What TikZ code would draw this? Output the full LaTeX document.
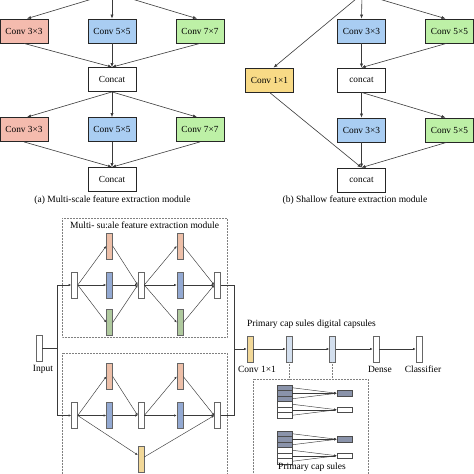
\documentclass[tikz,border=0pt]{standalone}
\usepackage{fontspec}
\setmainfont{Liberation Serif}
\usetikzlibrary{arrows.meta,positioning,calc}
\definecolor{cpink}{HTML}{F4BBAE}
\definecolor{cblue}{HTML}{A9CDF2}
\definecolor{cgreen}{HTML}{BDF0A6}
\definecolor{cyel}{HTML}{F8DA86}
\definecolor{spink}{HTML}{EDBFA8}
\definecolor{sblue}{HTML}{93A9D2}
\definecolor{sgreen}{HTML}{AFC99E}
\definecolor{syel}{HTML}{F2D898}
\definecolor{scap}{HTML}{D3DFEE}
\definecolor{sgray}{HTML}{8A93AA}
\definecolor{lcol}{HTML}{3A3A3A}
\tikzset{
  bigbox/.style={draw=black!85,line width=0.8pt,minimum width=48pt,minimum height=24pt,inner sep=0pt,font=\fontsize{9.3}{10}\selectfont},
  bar/.style={draw=black!60,line width=0.5pt,minimum width=6pt,minimum height=26pt,inner sep=0pt},
  cell/.style={draw=black!70,line width=0.5pt,minimum width=15pt,minimum height=5.5pt,inner sep=0pt},
  arr/.style={draw=lcol,line width=0.6pt,-{Latex[length=4pt,width=3.2pt]}},
  sarr/.style={draw=lcol,line width=0.45pt,-{Latex[length=2.6pt,width=2.2pt]}},
  plain/.style={draw=lcol,line width=0.45pt},
  dbox/.style={draw=black!50,line width=0.5pt,densely dotted},
  lbl/.style={font=\fontsize{9.5}{10}\selectfont,inner sep=0pt}
}
\begin{document}
\begin{tikzpicture}[x=1pt,y=-1pt]
\useasboundingbox (0,0) rectangle (474,474);
\clip (0,0) rectangle (474,474);
\fill[white] (0,0) rectangle (474,474);
% ---------- (a) ----------
\coordinate (ina) at (112,-7);
\node[bigbox,fill=cpink] (a1) at (24,31) {Conv 3×3};
\node[bigbox,fill=cblue] (a2) at (112,31) {Conv 5×5};
\node[bigbox,fill=cgreen] (a3) at (200,31) {Conv 7×7};
\node[bigbox,fill=white] (ac1) at (112,79.5) {Concat};
\node[bigbox,fill=cpink] (a4) at (24,129.5) {Conv 3×3};
\node[bigbox,fill=cblue] (a5) at (112,129.5) {Conv 5×5};
\node[bigbox,fill=cgreen] (a6) at (200,129.5) {Conv 7×7};
\node[bigbox,fill=white] (ac2) at (112,179.5) {Concat};
\draw[arr] (ina) -- ($(a1.north)+(3,0)$);
\draw[arr] (ina) -- (a2.north);
\draw[arr] (ina) -- ($(a3.north)+(-3,0)$);
\foreach \s in {a1,a2,a3} \draw[arr] (\s.south) -- (ac1.north);
\draw[arr] (ac1.south) -- ($(a4.north)+(3,0)$);
\draw[arr] (ac1.south) -- (a5.north);
\draw[arr] (ac1.south) -- ($(a6.north)+(-3,0)$);
\foreach \s in {a4,a5,a6} \draw[arr] (\s.south) -- (ac2.north);
\node[lbl] (capa) at (112.5,200) {(a) Multi-scale feature extraction module};
% ---------- (b) ----------
\coordinate (inb) at (362,-6);
\node[bigbox,fill=cyel] (b1) at (269.5,80) {Conv 1×1};
\node[bigbox,fill=cblue] (b2) at (361.5,31) {Conv 3×3};
\node[bigbox,fill=cgreen] (b3) at (449.5,31) {Conv 5×5};
\node[bigbox,fill=white] (bc1) at (361.5,80) {concat};
\node[bigbox,fill=cblue] (b4) at (361.5,130) {Conv 3×3};
\node[bigbox,fill=cgreen] (b5) at (449.5,130) {Conv 5×5};
\node[bigbox,fill=white] (bc2) at (361.5,180) {concat};
\draw[arr] (inb) -- ($(b1.north)+(4,0)$);
\draw[arr] (inb) -- (b2.north);
\draw[arr] (inb) -- ($(b3.north)+(-4,0)$);
\draw[arr] (b2.south) -- (bc1.north);
\draw[arr] ($(b3.south)+(-3,0)$) -- (bc1.north);
\draw[arr] (bc1.south) -- (b4.north);
\draw[arr] (bc1.south) -- ($(b5.north)+(-4,0)$);
\draw[arr] (b4.south) -- (bc2.north);
\draw[arr] ($(b5.south)+(-3,0)$) -- (bc2.north);
\draw[arr] (b1.south) -- (bc2.north);
\node[lbl] (capb) at (355,200) {(b) Shallow feature extraction module};
% ---------- bottom: module boxes ----------
\draw[dbox] (62,218) rectangle (227,337);
\draw[dbox] (62,353) rectangle (227,482);
\node[lbl,anchor=west] (mlabel) at (70,225) {Multi- su:ale feature extraction module};
% box 1
\node[bar,fill=white] (w1) at (74.5,285) {};
\node[bar,fill=spink] (p1) at (109.5,246) {};
\node[bar,fill=sblue] (q1) at (109.5,285) {};
\node[bar,fill=sgreen] (g1) at (109.5,322.5) {};
\node[bar,fill=white] (w2) at (141,285) {};
\node[bar,fill=spink] (p2) at (180,246) {};
\node[bar,fill=sblue] (q2) at (180,285) {};
\node[bar,fill=sgreen] (g2) at (180,322.5) {};
\node[bar,fill=white] (w3) at (217.5,285) {};
\foreach \t in {p1,q1,g1} {\draw[sarr] (w1.east) -- (\t.west); \draw[sarr] (\t.east) -- (w2.west);}
\foreach \t in {p2,q2,g2} {\draw[sarr] (w2.east) -- (\t.west); \draw[sarr] (\t.east) -- (w3.west);}
% box 2
\node[bar,fill=white] (v1) at (74.5,415.5) {};
\node[bar,fill=spink] (r1) at (109.5,376.5) {};
\node[bar,fill=sblue] (s1) at (109.5,415.5) {};
\node[bar,fill=white] (v2) at (141,415.5) {};
\node[bar,fill=syel] (y1) at (141,459) {};
\node[bar,fill=spink] (r2) at (180,376.5) {};
\node[bar,fill=sblue] (s2) at (180,415.5) {};
\node[bar,fill=white] (v3) at (217.5,415.5) {};
\foreach \t in {r1,s1} {\draw[sarr] (v1.east) -- (\t.west); \draw[sarr] (\t.east) -- (v2.west);}
\foreach \t in {r2,s2} {\draw[sarr] (v2.east) -- (\t.west); \draw[sarr] (\t.east) -- (v3.west);}
\draw[sarr] (v1.east) -- ($(y1.west)+(0,-4)$);
\draw[sarr] ($(y1.east)+(0,-2)$) -- (v3.west);
% input
\node[bar,fill=white] (inp) at (39,348) {};
\node[lbl] (inlbl) at (43,369) {Input};
\coordinate (split) at (57,348);
\draw[plain] (inp.east) -- (split);
\draw[sarr] (split) |- (w1.west);
\draw[sarr] (split) |- (v1.west);
% output merge
\coordinate (merge) at (234,349);
\draw[plain] (w3.east) -| (merge);
\draw[plain] (v3.east) -| (merge);
% ---------- capsule row ----------
\node[bar,fill=syel] (c11) at (250,349) {};
\node[bar,fill=scap] (cap1) at (289,349) {};
\node[bar,fill=scap] (cap2) at (332.5,349) {};
\node[bar,fill=white] (dense) at (376,349) {};
\node[bar,fill=white] (cls) at (419,349) {};
\draw[sarr] (merge) -- (c11.west);
\draw[sarr] (c11.east) -- (cap1.west);
\draw[sarr] (cap1.east) -- (cap2.west);
\draw[sarr] (cap2.east) -- (dense.west);
\draw[sarr] (dense.east) -- (cls.west);
\node[lbl] (l11) at (257,369) {Conv 1×1};
\node[lbl] (ldense) at (380,369) {Dense};
\node[lbl] (lcls) at (423,369) {Classifier};
\node[lbl] (lprim) at (311.5,324) {Primary cap sules digital capsules};
% ---------- primary capsules detail ----------
\draw[dbox] (253,379) rectangle (368,482);
\coordinate (t1) at (289,379);
\coordinate (t2) at (332.5,379);
\draw[dbox] (cap1.south) -- (t1);
\draw[dbox] (cap2.south) -- (t2);
\foreach \k/\y in {A/385,B/431} {
  \foreach \i in {1,...,6} {
    \pgfmathsetmacro{\yy}{\y+(\i-0.5)*5.5}
    \ifnum\i<4
      \node[cell,fill=sgray] (\k\i) at (284.5,\yy) {};
    \else
      \node[cell,fill=white] (\k\i) at (284.5,\yy) {};
    \fi
  }
  \node[cell,fill=sgray] (\k g) at (344.5,{\y+8.25}) {};
  \node[cell,fill=white] (\k w) at (344.5,{\y+24.75}) {};
  \foreach \i in {1,2,3} \draw[sarr] (\k\i.east) -- (\k g.west);
  \foreach \i in {4,5,6} \draw[sarr] (\k\i.east) -- (\k w.west);
}
\node[lbl] (lpc) at (312,467.5) {Primary cap sules};
\end{tikzpicture}
\end{document}
